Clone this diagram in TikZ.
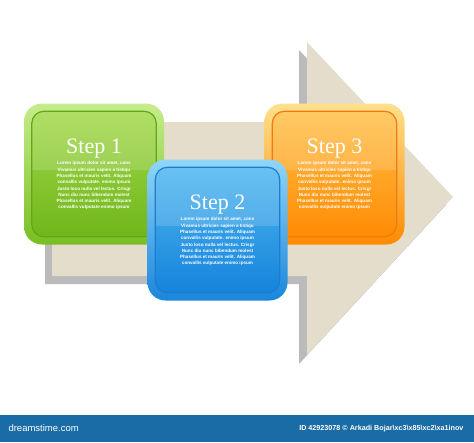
\documentclass[tikz,border=0pt]{standalone}
\usepackage{fontspec}
\setsansfont{Liberation Sans}
\newfontfamily\titlefont{Liberation Serif}
\usetikzlibrary{calc,positioning}

\definecolor{arrowbeige}{HTML}{E4DDCC}
\definecolor{arrowshade}{HTML}{BBBBBB}
\definecolor{bannerblue}{HTML}{1A6CA6}
\definecolor{greenlight}{HTML}{C6EC8C}
\definecolor{greendark}{HTML}{78BE22}
\definecolor{greentop}{HTML}{A6DB4E}
\definecolor{greenbottom}{HTML}{6CB418}
\definecolor{greenrim}{HTML}{62A814}
\definecolor{bluelight}{HTML}{90D6F8}
\definecolor{bluedark}{HTML}{1A86DC}
\definecolor{bluetop}{HTML}{52BAF1}
\definecolor{bluebottom}{HTML}{1380DA}
\definecolor{bluerim}{HTML}{1C7ED0}
\definecolor{orangelight}{HTML}{FFE08C}
\definecolor{orangedark}{HTML}{FF8A00}
\definecolor{orangetop}{HTML}{FFC44E}
\definecolor{orangebottom}{HTML}{FF8800}
\definecolor{orangerim}{HTML}{F07A10}

\newcommand{\loremlines}{Lorem ipsum dolor sit amet, cons\\
Vivamus ultricies sapien a tistiqu\\
Phasellus et mauris velit. Aliquam\\
convallis vulputate. enimo ipsum\\
Justo loso nulla vel lectus. Crisgr\\
Nunc diu nunc bibendum molest\\
Phasellus et mauris velit. Aliquam\\
convallis vulputate enimo ipsum}

\tikzset{
  stepbox/.style 2 args={minimum width=140pt,minimum height=141pt,inner sep=0pt,
    rounded corners=18pt,top color=#1,bottom color=#2},
  steprim/.style={draw=#1,line width=1.2pt,rounded corners=12pt},
  steptitle/.style={text=white,inner sep=1pt,font=\titlefont\fontsize{22}{22}\selectfont},
  steptext/.style={text=white,inner sep=0pt,align=center,
    font=\sffamily\bfseries\fontsize{4.6}{6.3}\selectfont},
}

\begin{document}
\begin{tikzpicture}[x=1pt,y=-1pt]
		\useasboundingbox (0,0) rectangle (474,442);
		% arrow with its shadow
		\fill[arrowshade] (45,130) -- (299,130) -- (299,50) -- (446,205) -- (299,364) -- (299,284) -- (45,284) -- cycle;
		\fill[arrowbeige] (52,122) -- (307,122) -- (307,42) -- (453,197) -- (307,355) -- (307,276) -- (52,276) -- cycle;
		% the three steps
		\foreach \n/\cx/\cy/\col in {1/94/174/green,3/334.5/174/orange,2/217.5/230/blue}{
			\node[stepbox={\col light}{\col dark}] (step\n) at (\cx,\cy) {};
			\begin{scope}
				\clip[rounded corners=12pt] ($(step\n.north west)+(8,8)$) rectangle ($(step\n.south east)+(-8,-8)$);
				\fill[top color=\col top,bottom color=\col bottom] (step\n.north west) rectangle (step\n.south east);
				\fill[white,opacity=.15] (step\n.north west) rectangle ($(step\n.east)+(0,-4)$);
			\end{scope}
			\draw[steprim=\col rim] ($(step\n.north west)+(8,8)$) rectangle ($(step\n.south east)+(-8,-8)$);
			\node[steptitle] (title\n) at ($(step\n.center)+(0,-25)$) {Step \n};
			\node[steptext,below=1.5pt of title\n] (text\n) {\loremlines};
		}
		% banner
		\fill[bannerblue] (0,415) rectangle (474,442);
		\node[anchor=west,text=white,font=\sffamily\fontsize{9.5}{10}\selectfont] (site) at (5,428.5) {dreamstime.com};
		\node[anchor=east,text=white,font=\sffamily\bfseries\fontsize{7.2}{8}\selectfont] (credit) at (467,428.5) {ID 42923078 \textcopyright{} Arkadi Bojar\textbackslash xc3\textbackslash x85\textbackslash xc2\textbackslash xa1inov};
\end{tikzpicture}
\end{document}
